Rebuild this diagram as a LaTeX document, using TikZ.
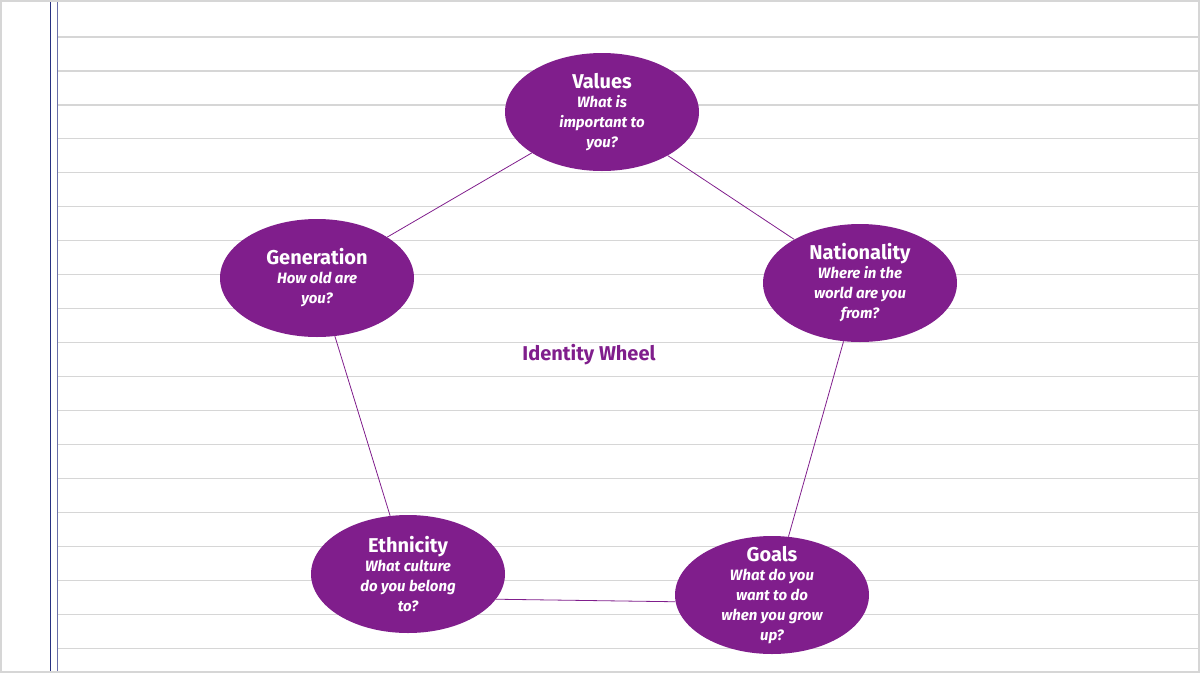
\documentclass[tikz,border=0pt]{standalone}
\usepackage{fontspec}
\setmainfont{Fira Sans}
\usetikzlibrary{shapes.geometric}
\definecolor{wheel}{RGB}{128, 30, 140}
\definecolor{rule}{RGB}{214, 214, 214}
\definecolor{margin}{RGB}{40, 50, 130}
\tikzset{
  topic/.style={ellipse, fill=wheel, text=white, minimum width=194pt, minimum height=118pt,
    inner sep=-12pt, align=center, font=\fontsize{15}{20}\selectfont\bfseries\itshape},
  spoke/.style={draw=wheel, line width=0.8pt}
}
\newcommand{\topichead}[1]{{\fontsize{20}{23}\selectfont\upshape #1}\\[-1pt]}
\begin{document}
\begin{tikzpicture}[x=1pt, y=-1pt]
  \useasboundingbox (0, 0) rectangle (1200, 673);
  \draw [rule, line width=1.5pt] (1, 1) rectangle (1199, 672);
  % ruled paper
  \foreach \k in {0, ..., 18}
    \draw [rule, line width=1.2pt] (58, {37 + 33.95*\k}) -- (1199, {37 + 33.95*\k});
  \draw [margin, line width=1pt] (50, 2) -- (50, 671);
  \draw [margin!70, line width=1pt] (57, 2) -- (57, 671);

  \node [topic] (values) at (602, 112) {\topichead{Values}What is\\important to\\you?};
  \node [topic] (nationality) at (860, 283) {\topichead{Nationality}Where in the\\world are you\\from?};
  \node [topic] (generation) at (317, 278) {\topichead{Generation}How old are\\you?};
  \node [topic] (ethnicity) at (408, 574) {\topichead{Ethnicity}What culture\\do you belong\\to?};
  \node [topic] (goals) at (772, 595) {\topichead{Goals}What do you\\want to do\\when you grow\\up?};
  \node [text=wheel, font=\fontsize{20}{24}\selectfont\bfseries] (title) at (589, 355) {Identity Wheel};

  \draw [spoke] (values) -- (nationality);
  \draw [spoke] (values) -- (generation);
  \draw [spoke] (generation) -- (ethnicity);
  \draw [spoke] (nationality) -- (goals);
  \draw [spoke] (ethnicity.-16) -- (goals.184);
\end{tikzpicture}
\end{document}
